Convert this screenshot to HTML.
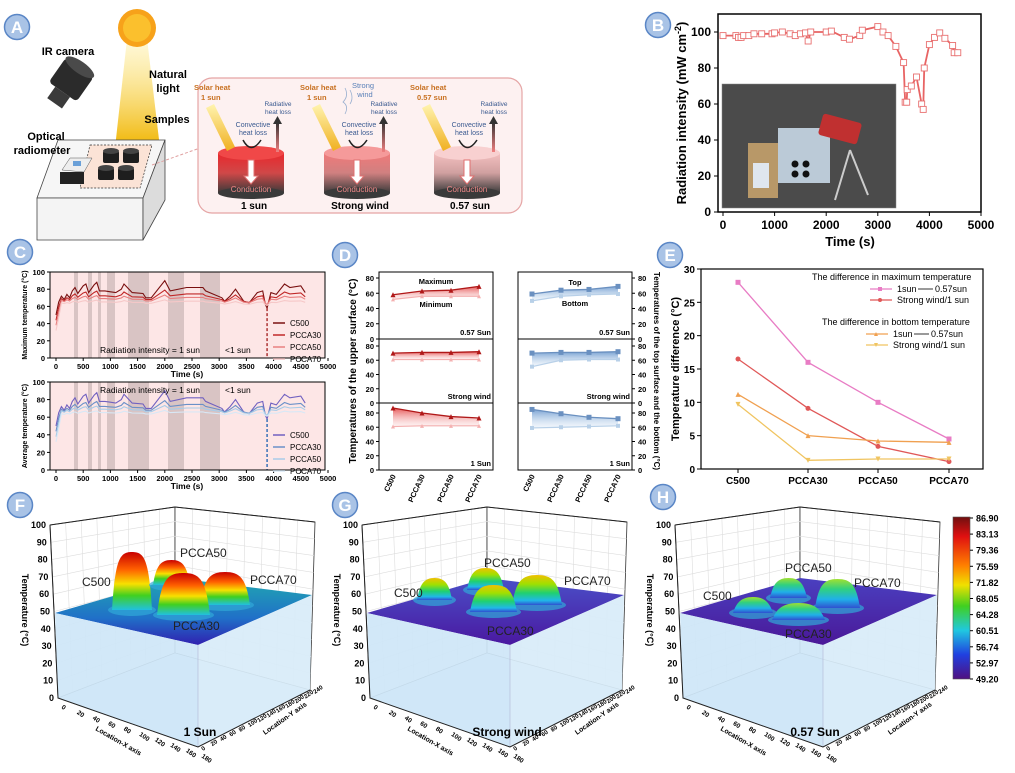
<!DOCTYPE html>
<html><head><meta charset="utf-8">
<style>
html,body{margin:0;padding:0;background:#fff;}
svg{display:block;font-family:"Liberation Sans",Arial,sans-serif;}
</style></head>
<body>
<svg id="s" width="1015" height="773" viewBox="0 0 1015 773" xmlns="http://www.w3.org/2000/svg">
<defs>
<linearGradient id="beam" x1="0" y1="0" x2="0" y2="1"><stop offset="0" stop-color="#fff2a0" stop-opacity="0.3"/><stop offset="1" stop-color="#f0b400"/></linearGradient>
<linearGradient id="cyl1" x1="0" y1="0" x2="0" y2="1"><stop offset="0" stop-color="#e8282d"/><stop offset="0.5" stop-color="#d04848"/><stop offset="1" stop-color="#3a3a3a"/></linearGradient>
<linearGradient id="cyl2" x1="0" y1="0" x2="0" y2="1"><stop offset="0" stop-color="#f07a7a"/><stop offset="0.5" stop-color="#d08080"/><stop offset="1" stop-color="#3a3a3a"/></linearGradient>
<linearGradient id="cyl3" x1="0" y1="0" x2="0" y2="1"><stop offset="0" stop-color="#f4c0c0"/><stop offset="0.5" stop-color="#d0a0a0"/><stop offset="1" stop-color="#3a3a3a"/></linearGradient>
<linearGradient id="ray" x1="0" y1="0" x2="0" y2="1"><stop offset="0" stop-color="#fff4b0"/><stop offset="1" stop-color="#f0b020"/></linearGradient>
<linearGradient id="arrR" x1="0" y1="1" x2="0" y2="0"><stop offset="0" stop-color="#f08080"/><stop offset="1" stop-color="#333"/></linearGradient>
<linearGradient id="pkF" x1="0" y1="0" x2="0" y2="1"><stop offset="0" stop-color="#c80000"/><stop offset="0.3" stop-color="#ff6000"/><stop offset="0.55" stop-color="#f8e000"/><stop offset="0.75" stop-color="#40d020"/><stop offset="1" stop-color="#20c0e0"/></linearGradient>
<linearGradient id="pkG" x1="0" y1="0" x2="0" y2="1"><stop offset="0" stop-color="#f0c000"/><stop offset="0.3" stop-color="#a0e000"/><stop offset="0.6" stop-color="#20d070"/><stop offset="0.85" stop-color="#20b8e8"/><stop offset="1" stop-color="#3050d0"/></linearGradient>
<linearGradient id="pkH" x1="0" y1="0" x2="0" y2="1"><stop offset="0" stop-color="#a0e030"/><stop offset="0.35" stop-color="#30d080"/><stop offset="0.7" stop-color="#20b0e8"/><stop offset="1" stop-color="#3050d0"/></linearGradient>
<linearGradient id="sfF" x1="0" y1="0" x2="0" y2="1"><stop offset="0" stop-color="#20a8b0"/><stop offset="0.6" stop-color="#2070c8"/><stop offset="1" stop-color="#3020b0"/></linearGradient>
<linearGradient id="sfG" x1="0" y1="0" x2="0" y2="1"><stop offset="0" stop-color="#4a50c8"/><stop offset="1" stop-color="#4a18a0"/></linearGradient>
<linearGradient id="sfH" x1="0" y1="0" x2="0" y2="1"><stop offset="0" stop-color="#4a40c0"/><stop offset="1" stop-color="#4a1898"/></linearGradient>
<linearGradient id="cbar" x1="0" y1="0" x2="0" y2="1"><stop offset="0" stop-color="#701010"/><stop offset="0.12" stop-color="#e01010"/><stop offset="0.3" stop-color="#ff8000"/><stop offset="0.42" stop-color="#f0e000"/><stop offset="0.55" stop-color="#40d020"/><stop offset="0.7" stop-color="#20c8e0"/><stop offset="0.85" stop-color="#2040e0"/><stop offset="1" stop-color="#501080"/></linearGradient>
<linearGradient id="fillR" x1="0" y1="0" x2="0" y2="1"><stop offset="0" stop-color="#e03030" stop-opacity="0.8"/><stop offset="1" stop-color="#f8c0c0" stop-opacity="0.2"/></linearGradient>
<linearGradient id="fillB" x1="0" y1="0" x2="0" y2="1"><stop offset="0" stop-color="#5a8cc8" stop-opacity="0.8"/><stop offset="1" stop-color="#c0d8f0" stop-opacity="0.2"/></linearGradient>
</defs>

<g>
<polygon points="128,30 146,30 160,148 115,148" fill="url(#beam)"/>
<circle cx="137" cy="28" r="19" fill="#f7a21a"/>
<circle cx="137" cy="28" r="14" fill="#fbc02d"/>
<g transform="rotate(35 65 85)">
<rect x="50" y="62" width="34" height="30" rx="4" fill="#2b2b2b"/>
<rect x="58" y="92" width="18" height="14" fill="#3a3a3a"/>
<ellipse cx="67" cy="62" rx="17" ry="6" fill="#4a4a4a"/>
</g>
<text x="68" y="55" font-size="11" font-weight="bold" text-anchor="middle">IR camera</text>
<text x="168" y="78" font-size="11" font-weight="bold" text-anchor="middle">Natural</text>
<text x="168" y="92" font-size="11" font-weight="bold" text-anchor="middle">light</text>
<text x="167" y="123" font-size="11" font-weight="bold" text-anchor="middle">Samples</text>
<polygon points="37,198 58,140 165,140 143,198" fill="#f6f6f6" stroke="#444" stroke-width="0.8"/>
<polygon points="37,198 143,198 143,240 37,240" fill="#f4f4f4" stroke="#444" stroke-width="0.8"/>
<polygon points="143,198 165,140 165,200 143,240" fill="#dcdcdc" stroke="#444" stroke-width="0.8"/>
<polygon points="90,145 152,145 140,188 80,188" fill="#fbe3d6" stroke="#333" stroke-width="0.7" stroke-dasharray="2,1.5"/>
<g fill="#1e1e1e">
<rect x="103" y="151" width="16" height="12" rx="2"/><ellipse cx="111" cy="151" rx="8" ry="3" fill="#444"/>
<rect x="123" y="151" width="16" height="12" rx="2"/><ellipse cx="131" cy="151" rx="8" ry="3" fill="#444"/>
<rect x="98" y="168" width="16" height="12" rx="2"/><ellipse cx="106" cy="168" rx="8" ry="3" fill="#444"/>
<rect x="118" y="168" width="16" height="12" rx="2"/><ellipse cx="126" cy="168" rx="8" ry="3" fill="#444"/>
</g>
<polygon points="62,170 70,158 92,158 84,172" fill="#eee" stroke="#555" stroke-width="0.5"/>
<polygon points="60,172 84,172 84,184 60,184" fill="#222"/>
<rect x="73" y="161" width="8" height="5" fill="#6aa0d8"/>
<line x1="152" y1="165" x2="200" y2="148" stroke="#e0a0a0" stroke-dasharray="3,2"/>
<text x="46" y="140" font-size="11" font-weight="bold" text-anchor="middle">Optical</text>
<text x="42" y="154" font-size="11" font-weight="bold" text-anchor="middle">radiometer</text>
<rect x="198" y="78" width="324" height="135" rx="14" fill="#fdf1f1" stroke="#e5a5a5" stroke-width="1.2"/>
<g id="cyls"></g>
</g>

<g id="circles"></g>

<g>
<rect x="722" y="84" width="174" height="124" fill="#4b4b4b"/>
<rect x="722" y="84" width="174" height="124" fill="none" stroke="#888" stroke-width="0.5"/>
<rect x="778" y="128" width="52" height="55" fill="#cfe0f0" opacity="0.85"/>
<rect x="748" y="143" width="30" height="55" fill="#b89868"/>
<rect x="753" y="163" width="16" height="25" fill="#dfe6ee"/>
<circle cx="795" cy="164" r="3.5" fill="#111"/><circle cx="806" cy="164" r="3.5" fill="#111"/>
<circle cx="795" cy="174" r="3.5" fill="#111"/><circle cx="806" cy="174" r="3.5" fill="#111"/>
<rect x="820" y="118" width="40" height="22" rx="3" fill="#c03030" transform="rotate(15 840 129)"/>
<line x1="850" y1="150" x2="835" y2="200" stroke="#ccc" stroke-width="2"/>
<line x1="850" y1="150" x2="868" y2="195" stroke="#ccc" stroke-width="2"/>
<rect x="718" y="14" width="263" height="198" fill="none" stroke="#000" stroke-width="1.5"/>
<g id="bplot"></g>
<text transform="translate(686,113) rotate(-90)" font-size="13" font-weight="bold" text-anchor="middle">Radiation intensity (mW cm<tspan dy="-5" font-size="9">-2</tspan><tspan dy="5">)</tspan></text>
<text x="850" y="246" font-size="13" font-weight="bold" text-anchor="middle">Time (s)</text>
</g>

<g>
<rect x="701" y="269" width="282" height="200" fill="none" stroke="#000" stroke-width="1.2"/>
<g id="eplot"></g>
<text transform="translate(679,369) rotate(-90)" font-size="11" font-weight="bold" text-anchor="middle">Temperature difference (°C)</text>
<text x="812" y="280" font-size="9">The difference in maximum temperature</text>
<text x="897" y="292" font-size="9">1sun</text><text x="935" y="292" font-size="9">0.57sun</text>
<line x1="918" y1="289" x2="933" y2="289" stroke="#000" stroke-width="0.8"/>
<text x="897" y="303" font-size="9">Strong wind/1 sun</text>
<text x="822" y="325" font-size="9">The difference in bottom temperature</text>
<text x="893" y="337" font-size="9">1sun</text><text x="931" y="337" font-size="9">0.57sun</text>
<line x1="914" y1="334" x2="929" y2="334" stroke="#000" stroke-width="0.8"/>
<text x="893" y="348" font-size="9">Strong wind/1 sun</text>
</g>

<g id="cplot"></g>
<g id="dplot"></g>
<g id="p3d"></g>
</svg>

<script>
function add(id,html){document.getElementById(id).insertAdjacentHTML('beforeend',html);}
function T(x,y,s,fs,o){o=o||'';return '<text x="'+x+'" y="'+y+'" font-size="'+fs+'" '+o+'>'+s+'</text>';}

var cs=[['A',17,27],['B',658,25],['C',20,252],['D',345,255],['E',670,255],['F',20,505],['G',345,505],['H',663,497]];
cs.forEach(function(c){add('circles','<circle cx="'+c[1]+'" cy="'+c[2]+'" r="12.5" fill="#a9c3e6" stroke="#5a86c6" stroke-width="1.5"/>'+T(c[1],c[2]+6,c[0],17,'font-weight="bold" fill="#fff" text-anchor="middle"'));});

var cy=[[251,'cyl1','1 sun','Solar heat','1 sun'],[357,'cyl2','Strong wind','Solar heat','1 sun'],[467,'cyl3','0.57 sun','Solar heat','0.57 sun']];
cy.forEach(function(c,i){var x=c[0];
var h='<rect x="'+(x-33)+'" y="153" width="66" height="40" fill="url(#'+c[1]+')"/>';
h+='<ellipse cx="'+x+'" cy="193" rx="33" ry="6" fill="#3a3a3a"/>';
h+='<ellipse cx="'+x+'" cy="153" rx="33" ry="7" fill="'+(i==0?'#f04848':i==1?'#f59a9a':'#f8d0d0')+'"/>';
h+='<polygon points="'+(x-3)+',160 '+(x+3)+',160 '+(x+3)+',176 '+(x+7)+',176 '+x+',184 '+(x-7)+',176 '+(x-3)+',176" fill="#fff" stroke="#e07070"/>';
h+=T(x,192,'Conduction',8,'fill="#f08888" text-anchor="middle"');
h+=T(x+3,209,c[2],10,'font-weight="bold" text-anchor="middle"');
h+='<polygon points="'+(x-45)+',108 '+(x-37)+',104 '+(x-16)+',147 '+(x-24)+',151" fill="url(#ray)"/>';
h+=T(x-57,90,c[3],7.5,'fill="#c87020" font-weight="bold"')+T(x-50,100,c[4],7.5,'fill="#c87020" font-weight="bold"');
h+='<rect x="'+(x+25)+'" y="122" width="3" height="30" fill="url(#arrR)"/><polygon points="'+(x+22)+',124 '+(x+26.5)+',116 '+(x+31)+',124" fill="#333"/>';
h+=T(x+27,106,'Radiative',6.5,'fill="#3a5a90" text-anchor="middle"')+T(x+27,114,'heat loss',6.5,'fill="#3a5a90" text-anchor="middle"');
h+=T(x+2,127,'Convective',7,'fill="#3a5a90" text-anchor="middle"')+T(x+2,135,'heat loss',7,'fill="#3a5a90" text-anchor="middle"');
h+='<path d="M'+(x-8)+',140 Q'+x+',155 '+(x+10)+',140" fill="none" stroke="#222" stroke-width="1.5"/>';
add('cyls',h);});
add('cyls',T(363,88,'Strong',7.5,'fill="#5a80b8" text-anchor="middle"')+T(365,97,'wind',7.5,'fill="#5a80b8" text-anchor="middle"')+'<path d="M345,88 q4,8 -2,14 q6,4 2,12 M350,90 q4,8 0,14" fill="none" stroke="#9ab0d0" stroke-width="0.8"/>');

var bx=function(t){return 723+t*0.0516;}, by=function(v){return 212-v*1.8;};
var h='';
for(var i=0;i<=5;i++){var x=bx(i*1000);h+='<line x1="'+x+'" y1="212" x2="'+x+'" y2="216" stroke="#000"/>'+T(x,229,i*1000,12,'font-weight="bold" text-anchor="middle"');}
for(var i=0;i<=5;i++){var y=by(i*20);h+='<line x1="714" y1="'+y+'" x2="718" y2="'+y+'" stroke="#000"/>'+T(711,y+4,i*20,12,'font-weight="bold" text-anchor="end"');}
var bd=[[0,98],[250,98],[300,97],[350,97],[400,98],[500,98],[600,99],[750,99],[950,99],[1000,99.5],[1150,100],[1300,99],[1400,98],[1500,99],[1600,99.5],[1650,95],[1700,100],[2000,100],[2100,100.5],[2350,97],[2450,96],[2650,98],[2700,101],[3000,103],[3100,100],[3200,98],[3350,92],[3500,83],[3530,61],[3560,61],[3570,68],[3650,70],[3750,75],[3850,60],[3880,57],[3900,80],[4000,93],[4100,97],[4200,99.5],[4300,96.5],[4450,92.5],[4480,88.5],[4550,88.5]];
h+='<polyline fill="none" stroke="#e86464" stroke-width="1.8" points="'+bd.map(function(p){return bx(p[0])+','+by(p[1]);}).join(' ')+'"/>';
bd.forEach(function(p){h+='<rect x="'+(bx(p[0])-3)+'" y="'+(by(p[1])-3)+'" width="6" height="6" fill="#fff" stroke="#e87070" stroke-width="0.9"/>';});
add('bplot',h);

var ex=[738,808,878,949], ey=function(v){return 469-v*6.667;};
h='';
for(var i=0;i<=6;i++){var y=ey(i*5);h+='<line x1="697" y1="'+y+'" x2="701" y2="'+y+'" stroke="#000"/>'+T(695,y+4,i*5,10,'font-weight="bold" text-anchor="end"');}
['C500','PCCA30','PCCA50','PCCA70'].forEach(function(n,i){h+='<line x1="'+ex[i]+'" y1="469" x2="'+ex[i]+'" y2="473" stroke="#000"/>'+T(ex[i],484,n,10,'font-weight="bold" text-anchor="middle"');});
var es=[['#e87cc4',[28,16,10,4.5],'s'],['#e05858',[16.5,9.1,3.4,1.1],'c'],['#f0a050',[11.2,5,4.2,4],'t'],['#f0c460',[9.7,1.3,1.5,1.5],'v']];
function mk(x,y,c,m,r){r=r||2.5;if(m=='s')return '<rect x="'+(x-r)+'" y="'+(y-r)+'" width="'+2*r+'" height="'+2*r+'" fill="'+c+'"/>';if(m=='c')return '<circle cx="'+x+'" cy="'+y+'" r="'+r+'" fill="'+c+'"/>';if(m=='t')return '<polygon points="'+(x-r)+','+(y+r)+' '+(x+r)+','+(y+r)+' '+x+','+(y-r)+'" fill="'+c+'"/>';return '<polygon points="'+(x-r)+','+(y-r)+' '+(x+r)+','+(y-r)+' '+x+','+(y+r)+'" fill="'+c+'"/>';}
es.forEach(function(s){h+='<polyline fill="none" stroke="'+s[0]+'" stroke-width="1.3" points="'+s[1].map(function(v,i){return ex[i]+','+ey(v);}).join(' ')+'"/>';s[1].forEach(function(v,i){h+=mk(ex[i],ey(v),s[0],s[2]);});});
[[289,0,880],[300,1,880],[334,2,876],[345,3,876]].forEach(function(l){var c=es[l[1]][0];h+='<line x1="'+(l[2]-10)+'" y1="'+l[0]+'" x2="'+(l[2]+12)+'" y2="'+l[0]+'" stroke="'+c+'" stroke-width="1.2"/>'+mk(l[2],l[0],c,es[l[1]][2],2);});
add('eplot',h);

var bands=[[74,78],[88,92],[98,101],[107,115],[128,149],[168,184],[200,220]];
var cbase=[[0,50],[50,65],[100,72],[150,68],[200,74],[250,70],[300,78],[350,82],[400,75],[500,84],[550,86],[600,76],[700,85],[750,88],[800,78],[900,78],[1000,77],[1100,76],[1200,80],[1250,86],[1400,76],[1600,75],[1650,70],[1750,70],[2000,90],[2100,78],[2400,82],[2700,82],[2750,78],[3050,70],[3100,66],[3200,72],[3300,80],[3450,66],[3550,64],[3700,76],[3800,78],[3850,62],[3880,58],[3950,76],[4050,74],[4200,86],[4300,82],[4500,84],[4580,76]];
function cPlot(top,bot,cols,ylab,legs,legY,annY,dash){
 var cx=function(t){return 56+t*0.0544;},cyf=function(v){return bot-v*(bot-top)/100;};
 var s='<rect x="50" y="'+top+'" width="275" height="'+(bot-top)+'" fill="#fde6e6"/>';
 bands.forEach(function(b){s+='<rect x="'+b[0]+'" y="'+top+'" width="'+(b[1]-b[0])+'" height="'+(bot-top)+'" fill="#d9c4c4"/>';});
 cols.forEach(function(c,k){var f=[1,0.55,0.35,0.2][k],o=[0,-3,-5,-8][k];
  s+='<polyline fill="none" stroke="'+c+'" stroke-width="1.1" points="'+cbase.map(function(p){var v=72+(p[1]-72)*f+o;if(p[0]<100)v=p[1]-k*6;return cx(p[0]).toFixed(1)+','+cyf(v).toFixed(1);}).join(' ')+'"/>';});
 s+='<line x1="'+cx(3880)+'" y1="'+cyf(58)+'" x2="'+cx(3880)+'" y2="'+bot+'" stroke="'+dash+'" stroke-width="1.3" stroke-dasharray="3,2"/>';
 s+='<rect x="50" y="'+top+'" width="275" height="'+(bot-top)+'" fill="none" stroke="#000" stroke-width="1"/>';
 for(var i=0;i<=10;i++){var x=cx(i*500);s+='<line x1="'+x+'" y1="'+bot+'" x2="'+x+'" y2="'+(bot+3)+'" stroke="#000"/>'+T(x,bot+11,i*500,7.5,'font-weight="bold" text-anchor="middle"');}
 for(var i=0;i<=5;i++){var y=cyf(i*20);s+='<line x1="47" y1="'+y+'" x2="50" y2="'+y+'" stroke="#000"/>'+T(45,y+3,i*20,7.5,'font-weight="bold" text-anchor="end"');}
 s+=T(187,bot+19,'Time (s)',8.5,'font-weight="bold" text-anchor="middle"');
 s+='<text transform="translate(27,'+((top+bot)/2)+') rotate(-90)" font-size="7" font-weight="bold" text-anchor="middle">'+ylab+'</text>';
 legs.forEach(function(n,i){var y=legY+i*12;s+='<line x1="273" y1="'+(y-3)+'" x2="285" y2="'+(y-3)+'" stroke="'+cols[i]+'" stroke-width="1.5"/>'+T(290,y,n,8);});
 s+=T(100,annY,'Radiation intensity = 1 sun',8.5)+T(225,annY,'&lt;1 sun',8.5);
 return s;}
var names=['C500','PCCA30','PCCA50','PCCA70'];
add('cplot',cPlot(272,358,['#7a1010','#c02828','#e88080','#f6c8c8'],'Maximum temperature (°C)',names,326,353,'#a01818'));
add('cplot',cPlot(382,470,['#7060c0','#6a90c8','#a8cce8','#d8e8f6'],'Average temperature (°C)',names,438,393,'#1a60b0'));

function dPlot(x0,x1,xs,panels,col,fill,mkr,right){
 var s='';
 panels.forEach(function(p){var top=p[0],bot=p[1],y80=p[2];var sc=(bot-y80)/80;var yf=function(v){return bot-v*sc;};
  var a=p[3],b=p[4];
  s+='<polygon points="'+xs.map(function(x,i){return x+','+yf(a[i]);}).join(' ')+' '+xs.slice().reverse().map(function(x,i){return x+','+yf(b[3-i]);}).join(' ')+'" fill="'+fill+'"/>';
  s+='<polyline fill="none" stroke="'+col[1]+'" stroke-width="1.2" points="'+xs.map(function(x,i){return x+','+yf(b[i]);}).join(' ')+'"/>';
  s+='<polyline fill="none" stroke="'+col[0]+'" stroke-width="1.3" points="'+xs.map(function(x,i){return x+','+yf(a[i]);}).join(' ')+'"/>';
  xs.forEach(function(x,i){s+=mk(x,yf(a[i]),col[0],mkr,2.5)+mk(x,yf(b[i]),col[1],mkr,2);});
  for(var v=0;v<=80;v+=20){var y=yf(v);if(right){s+='<line x1="'+x1+'" y1="'+y+'" x2="'+(x1+3)+'" y2="'+y+'" stroke="#000"/>'+T(x1+6,y+3,v,7.5,'font-weight="bold"');}else{s+='<line x1="'+(x0-3)+'" y1="'+y+'" x2="'+x0+'" y2="'+y+'" stroke="#000"/>'+T(x0-5,y+3,v,7.5,'font-weight="bold" text-anchor="end"');}}
  s+='<rect x="'+x0+'" y="'+top+'" width="'+(x1-x0)+'" height="'+(bot-top)+'" fill="none" stroke="#000" stroke-width="1"/>';
  s+=T(x1-2,bot-4,p[5],7.5,'font-weight="bold" text-anchor="end"');
 });
 names.forEach(function(n,i){s+='<text transform="translate('+(xs[i]+3)+',476) rotate(-65)" font-size="7.5" font-weight="bold" text-anchor="end">'+n+'</text>';});
 return s;}
var dl=[393,422,451,479],dr=[532,561,589,618];
add('dplot',dPlot(379,493,dl,[[272,339,278,[58,63,64,69],[52,56,56,56],'0.57 Sun'],[339,403,346,[70,71,71,72],[61,61,61,61],'Strong wind'],[403,470,413,[87,80,75,73],[61,62,62,62],'1 Sun']],['#b01818','#f4b0b0'],'url(#fillR)','t',false));
add('dplot',dPlot(518,632,dr,[[272,339,278,[59,64,65,69],[50,56,58,59],'0.57 Sun'],[339,403,346,[70,71,71,72],[51,60,61,61],'Strong wind'],[403,470,413,[85,79,74,72],[59,60,61,62],'1 Sun']],['#6a90c0','#b8d0e8'],'url(#fillB)','s',true));
add('dplot',T(436,284,'Maximum',7.5,'font-weight="bold" text-anchor="middle"')+T(436,307,'Minimum',7.5,'font-weight="bold" text-anchor="middle"')+T(575,285,'Top',7.5,'font-weight="bold" text-anchor="middle"')+T(575,306,'Bottom',7.5,'font-weight="bold" text-anchor="middle"'));
add('dplot','<text transform="translate(356,371) rotate(-90)" font-size="10" font-weight="bold" text-anchor="middle">Temperatures of the upper surface (°C)</text>');
add('dplot','<text transform="translate(654,371) rotate(90)" font-size="8" font-weight="bold" text-anchor="middle">Temperatures of the top surface and the bottom (°C)</text>');

function lerp(a,b,t){return [a[0]+(b[0]-a[0])*t,a[1]+(b[1]-a[1])*t];}
function P(a){return a.map(function(p){return p[0].toFixed(1)+','+p[1].toFixed(1);}).join(' ');}
function hill(x0,x1,tp,b,g){var w=x1-x0;return '<ellipse cx="'+((x0+x1)/2)+'" cy="'+b+'" rx="'+(w/2+4)+'" ry="6" fill="#30a8d8" opacity="0.7"/><path d="M'+x0+','+b+' C'+(x0+w*0.08)+','+(tp+6)+' '+(x0+w*0.2)+','+tp+' '+(x0+w*0.5)+','+tp+' C'+(x1-w*0.2)+','+tp+' '+(x1-w*0.08)+','+(tp+6)+' '+x1+','+b+' Z" fill="url(#'+g+')"/>';}
function panel3(dx,sf,pk,hills,label,lblpos){
 var LT=[50+dx,525],LB=[58+dx,698],BT=[175+dx,507],BB=[175+dx,653],RT=[315+dx,522],RB=[310+dx,690],FB=[198+dx,747];
 var sL=[55+dx,613],sB=[175+dx,578],sR=[312+dx,595],sF=[198+dx,645];
 var s='<polygon points="'+P([LT,BT,BB,LB])+'" fill="#fff" stroke="#333" stroke-width="0.8"/>';
 s+='<polygon points="'+P([BT,RT,RB,BB])+'" fill="#fff" stroke="#333" stroke-width="0.8"/>';
 for(var i=1;i<10;i++){var a=lerp(LT,LB,i/10),b=lerp(BT,BB,i/10),c=lerp(RT,RB,i/10);s+='<polyline points="'+P([a,b,c])+'" fill="none" stroke="#ddd" stroke-width="0.6"/>';}
 for(var i=1;i<8;i++){var a=lerp(LT,BT,i/8),b=lerp(LB,BB,i/8);s+='<line x1="'+a[0]+'" y1="'+a[1]+'" x2="'+b[0]+'" y2="'+b[1]+'" stroke="#ddd" stroke-width="0.6"/>';var c=lerp(BT,RT,i/8),d=lerp(BB,RB,i/8);s+='<line x1="'+c[0]+'" y1="'+c[1]+'" x2="'+d[0]+'" y2="'+d[1]+'" stroke="#ddd" stroke-width="0.6"/>';}
 s+='<polygon points="'+P([LB,BB,RB,FB])+'" fill="#dcebf7" stroke="#333" stroke-width="0.6"/>';
 s+='<polygon points="'+P([sL,sB,sR,sF])+'" fill="url(#'+sf+')"/>';
 hills.forEach(function(hh){s+=hill(hh[0]+dx,hh[1]+dx,hh[2],hh[3],pk);});
 s+='<polygon points="'+P([sL,sF,FB,LB])+'" fill="#cfe6f7" opacity="0.93"/>';
 s+='<polygon points="'+P([sF,sR,RB,FB])+'" fill="#d8ecf9" opacity="0.93"/>';
 s+='<line x1="'+sF[0]+'" y1="'+sF[1]+'" x2="'+FB[0]+'" y2="'+FB[1]+'" stroke="#aac" stroke-width="0.5"/>';
 s+='<polyline points="'+P([LT,BT,RT])+'" fill="none" stroke="#222" stroke-width="1"/>';
 s+='<line x1="'+LT[0]+'" y1="'+LT[1]+'" x2="'+LB[0]+'" y2="'+LB[1]+'" stroke="#222"/>';
 s+='<polyline points="'+P([LB,FB,RB])+'" fill="none" stroke="#222"/>';
 for(var i=0;i<=10;i++){var p=lerp(LB,LT,i/10);s+=T(p[0]-4,p[1]+3,i*10,9,'font-weight="bold" text-anchor="end"');}
 s+='<text transform="translate('+(22+dx)+',610) rotate(90)" font-size="9" font-weight="bold" text-anchor="middle">Temperature (°C)</text>';
 for(var i=0;i<=9;i++){var p=lerp(LB,FB,i/9);s+='<text transform="translate('+(p[0]+3)+','+(p[1]+10)+') rotate(35)" font-size="6.5" font-weight="bold">'+(i*20)+'</text>';}
 for(var i=0;i<=12;i++){var p=lerp(FB,RB,i/12);s+='<text transform="translate('+(p[0]+5)+','+(p[1]+4)+') rotate(-35)" font-size="6" font-weight="bold">'+(i*20)+'</text>';}
 s+='<text transform="translate('+(95+dx)+',730) rotate(30)" font-size="7" font-weight="bold">Location-X axis</text>';
 s+='<text transform="translate('+(265+dx)+',735) rotate(-35)" font-size="7" font-weight="bold">Location-Y axis</text>';
 s+=T(lblpos+dx,736,label,12,'font-weight="bold" text-anchor="middle"');
 return s;}
var lbl=function(dx,c,p50,p30,p70){return T(c[0]+dx,c[1],'C500',12,'fill="#222"')+T(p50[0]+dx,p50[1],'PCCA50',12,'fill="#222"')+T(p30[0]+dx,p30[1],'PCCA30',12,'fill="#222"')+T(p70[0]+dx,p70[1],'PCCA70',12,'fill="#222"');};
var g='';
g+=panel3(0,'sfF','pkF',[[112,152,552,610],[153,190,560,585],[200,250,572,605],[157,210,573,615]],'1 Sun',200);
g+=lbl(0,[82,586],[180,557],[173,630],[250,584]);
g+=panel3(312,'sfG','pkG',[[105,140,578,600],[155,192,568,590],[200,250,575,605],[158,205,585,612]],'Strong wind',195);
g+=lbl(312,[82,597],[172,567],[175,635],[252,585]);
g+=panel3(625,'sfH','pkH',[[108,148,597,613],[145,182,578,598],[190,235,579,608],[147,200,603,620]],'0.57 Sun',190);
g+=lbl(625,[78,600],[160,572],[160,638],[229,587]);
g+='<rect x="953" y="517" width="17" height="162" fill="url(#cbar)" stroke="#555" stroke-width="0.6"/>';
['86.90','83.13','79.36','75.59','71.82','68.05','64.28','60.51','56.74','52.97','49.20'].forEach(function(v,i){var y=518+i*16.1;g+='<line x1="970" y1="'+y+'" x2="973" y2="'+y+'" stroke="#000"/>'+T(976,y+3.5,v,9,'font-weight="bold"');});
add('p3d',g);
</script>
</body></html>
